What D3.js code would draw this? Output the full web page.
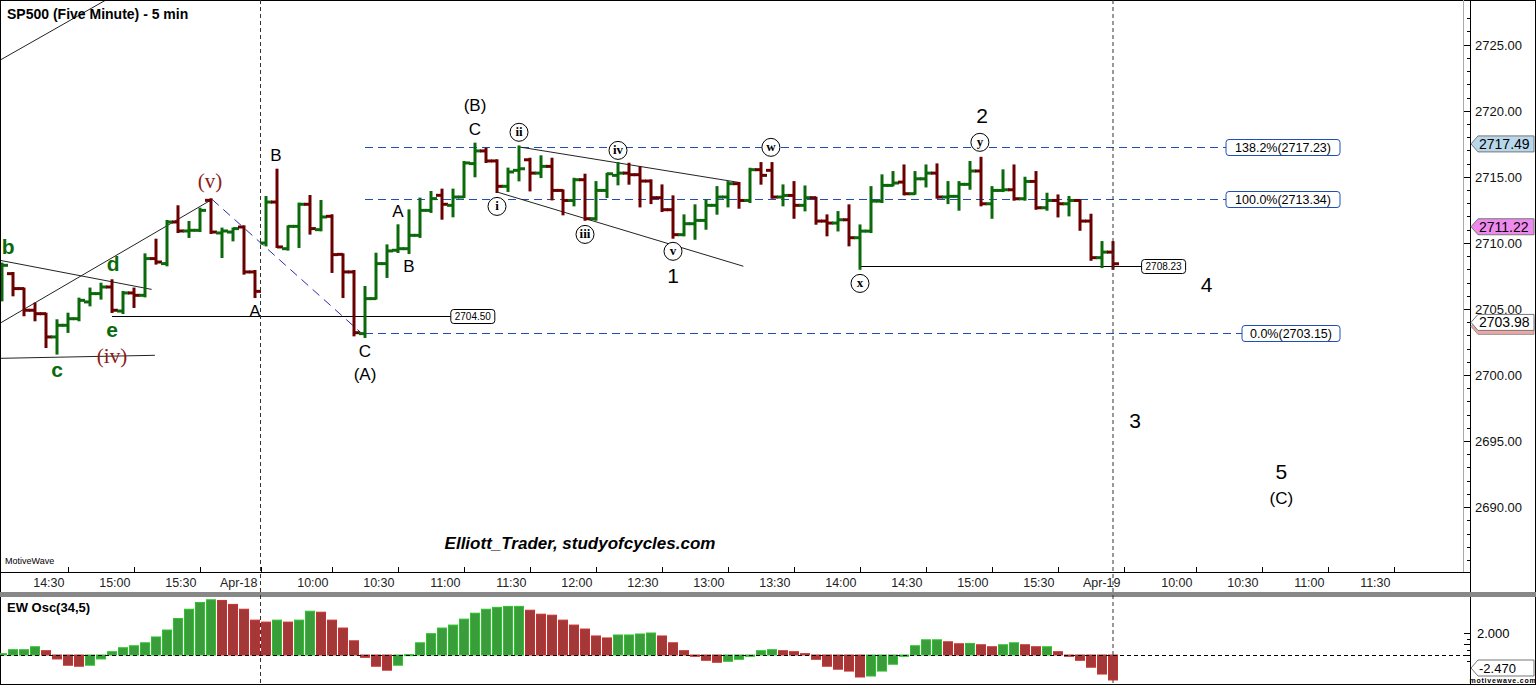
<!DOCTYPE html>
<html><head><meta charset="utf-8">
<script src="https://cdn.jsdelivr.net/npm/d3@7"></script>
<style>body{margin:0;background:#fff;overflow:hidden}svg{display:block;font-family:"Liberation Sans",Arial,sans-serif}</style>
</head><body><svg id="c" width="1536" height="685"></svg>
<script>
const opens=[2705.90,2707.67,2706.54,2704.90,2704.64,2702.88,2703.76,2704.26,2705.53,2706.16,2706.66,2704.84,2706.21,2706.03,2708.81,2708.43,2711.58,2710.90,2710.95,2713.22,2710.75,2710.82,2711.20,2707.80,
2709.99,2713.09,2709.56,2711.25,2712.92,2711.00,2712.01,2709.13,2707.80,2703.13,2705.78,2708.43,2709.44,2709.56,2710.57,2712.46,2713.60,2712.84,2713.47,2716.00,2716.96,2716.20,2714.28,
2715.49,2716.29,2715.28,2715.79,2713.97,2713.21,2714.78,2711.83,2713.97,2715.11,2715.28,2715.16,2714.68,2713.42,2712.51,2710.62,2711.45,2711.70,2712.84,2713.47,2714.48,2713.21,2715.54,2715.49,2713.47,2713.59,2712.84,2713.42,2711.65,2711.50,2711.75,2710.39,2710.89,
2713.16,2714.35,2714.60,2713.72,2714.85,2715.28,2713.47,2713.52,2714.43,2715.44,2712.96,2713.97,2714.02,2713.34,2714.65,2712.66,2713.21,2712.96,2713.21,2711.65,2708.88,2709.30];
const highs=[2708.43,2707.72,2706.54,2705.40,2704.64,2704.14,2704.64,2705.78,2706.54,2706.91,2707.17,2706.28,2706.54,2709.13,2710.24,2711.66,2712.77,2711.58,2712.59,2713.30,2711.08,2711.08,2711.25,2707.87,
2713.47,2715.54,2711.25,2712.97,2713.55,2713.17,2712.09,2709.13,2707.87,2706.66,2709.18,2709.81,2711.33,2712.46,2713.35,2713.85,2714.03,2714.03,2716.12,2717.51,2717.13,2716.25,2715.62,
2717.30,2716.37,2716.55,2716.37,2713.97,2714.85,2715.16,2714.60,2715.23,2716.04,2715.99,2715.74,2714.73,2714.35,2713.52,2712.08,2712.84,2713.21,2714.22,2714.60,2714.53,2715.61,2716.04,2716.04,2714.35,2714.60,2714.27,2713.42,2712.08,2712.33,2712.84,2711.32,2714.22,
2715.11,2715.36,2715.86,2715.36,2715.86,2715.94,2714.60,2714.60,2716.12,2716.44,2714.22,2715.49,2715.86,2714.93,2715.36,2713.72,2713.59,2713.47,2713.21,2712.13,2710.06,2710.06];
const lows=[2705.65,2706.03,2704.52,2704.14,2702.12,2701.62,2703.26,2704.14,2705.27,2705.78,2704.77,2704.69,2705.15,2705.95,2708.43,2708.30,2710.82,2710.45,2710.90,2710.75,2708.93,2710.19,2707.67,2705.90,
2709.81,2709.69,2709.49,2709.69,2710.70,2710.95,2707.80,2705.90,2703.00,2702.88,2705.78,2707.42,2709.31,2709.23,2710.45,2712.34,2711.83,2712.01,2713.47,2715.04,2716.12,2713.85,2713.93,
2714.73,2713.97,2714.98,2713.29,2712.16,2712.84,2711.75,2711.75,2713.47,2714.43,2714.48,2712.76,2713.01,2712.41,2710.39,2710.57,2710.31,2711.07,2712.21,2712.76,2712.66,2713.09,2714.48,2713.42,2712.84,2711.90,2712.46,2711.45,2710.57,2710.94,2709.81,2708.04,2710.82,
2713.09,2714.35,2713.67,2713.72,2714.27,2713.42,2713.01,2712.51,2714.10,2712.84,2711.90,2713.92,2713.27,2713.27,2712.58,2712.51,2712.00,2712.08,2710.99,2708.72,2708.17,2708.04];
const closes=[2708.30,2706.54,2704.90,2704.64,2702.88,2703.76,2704.26,2705.65,2706.16,2706.66,2704.90,2706.21,2706.03,2708.81,2708.55,2711.58,2710.90,2710.95,2712.46,2710.82,2710.90,2711.08,2707.80,2706.33,
2713.09,2709.69,2711.25,2712.92,2711.08,2711.96,2709.11,2707.80,2703.20,2705.78,2708.43,2709.39,2709.56,2710.57,2712.46,2713.35,2712.92,2713.47,2716.05,2716.96,2716.20,2714.28,2715.37,
2715.61,2715.28,2715.79,2713.97,2713.21,2714.78,2711.83,2713.97,2715.23,2715.28,2715.16,2714.68,2713.42,2712.51,2710.62,2711.45,2711.70,2712.84,2713.47,2714.48,2713.21,2715.54,2715.11,2713.47,2713.59,2712.84,2713.42,2711.65,2711.50,2711.75,2710.39,2710.89,2713.16,
2714.35,2714.53,2713.72,2714.85,2715.28,2713.47,2713.52,2714.43,2715.44,2712.96,2713.97,2714.02,2713.34,2714.65,2712.66,2713.21,2712.96,2713.21,2711.65,2708.88,2709.30,2708.42];
const osc=[0.12,0.48,0.48,0.75,0.39,-0.36,-0.93,-1.02,-0.93,-0.36,0.30,0.66,0.84,1.11,1.64,2.27,3.32,4.16,4.78,5.02,4.96,4.60,4.16,3.17,
2.99,3.17,2.99,3.17,3.98,3.89,3.17,2.45,1.29,-0.21,-1.02,-1.38,-0.93,0.03,1.11,1.94,2.45,2.72,3.26,3.80,4.16,4.33,4.42,4.42,4.07,3.71,3.62,3.17,2.72,2.36,1.73,
1.55,1.82,1.82,1.91,2.00,1.73,1.11,0.39,-0.12,-0.48,-0.66,-0.57,-0.39,-0.12,0.39,0.48,0.39,0.30,0.12,-0.39,-1.02,-1.29,-1.46,-2.00,-1.91,-1.46,-0.84,-0.12,0.84,1.38,1.38,1.20,1.02,1.05,0.93,0.75,0.93,1.11,0.93,0.75,0.75,0.30,-0.12,-0.48,-1.11,-1.73,-2.27];
const priceTicks=[2690,2695,2700,2705,2710,2715,2720,2725];
const timeTicks=[[6,"14:30"],[12,"15:00"],[18,"15:30"],[23.5,"Apr-18"],[30,"10:00"],[36,"10:30"],[42,"11:00"],[48,"11:30"],[54,"12:00"],[60,"12:30"],[66,"13:00"],[72,"13:30"],[78,"14:00"],[84,"14:30"],[90,"15:00"],[96,"15:30"],[102,"Apr-19"],[108.5,"10:00"],[114.5,"10:30"],[120.5,"11:00"],[126.5,"11:30"]];
const dayLines=[23.5,101];
const fibs=[["138.2%(2717.23)",2717.23],["100.0%(2713.34)",2713.34],["0.0%(2703.15)",2703.15]];
const tags=[[2717.49,"#b9d7ea"],[2711.22,"#ee8aee"],[2703.98,"#ffffff"]];
const trend=[[-0.2,2723.82,9.4,2728.36],[-0.2,2708.68,13.6,2706.48],[-0.2,2703.91,19.1,2713.29],[-0.2,2701.26,13.9,2701.49],[45,2713.85,67.4,2708.23],[47.1,2717.25,67.1,2714.56]];
const waveLabels=[["b",0.55,2709.66,"g"],["d",10.1,2708.37,"g"],["e",10,2703.38,"g"],["c",5,2700.35,"g"],["(iv)",10,2701.41,"r"],["(v)",18.9,2714.66,"r"],
["A",23,2704.89,"k"],["B",24.9,2716.7,"k"],["C",33,2701.86,"k"],["(A)",33,2700.12,"k"],["A",36,2712.46,"k"],["B",37,2708.3,"k"],["C",43,2718.67,"k"],["(B)",43,2720.49,"k"],
["1",61,2707.46,"n"],["2",89.1,2719.58,"n"],["4",109.5,2706.78,"n"],["3",103,2696.49,"n"],["5",116.3,2692.63,"n"],["(C)",116.3,2690.73,"k"]];
const circled=[["i",45,2712.76],["ii",47,2718.37],["iii",53,2710.64],["iv",56,2717.0],["v",61,2709.36],["w",69.9,2717.23],["x",78,2706.93],["y",88.9,2717.61]];

const svg=d3.select("#c");
const x=d3.scaleLinear().domain([0,1]).range([2,13]);
const y=d3.scaleLinear().domain([2690,2725]).range([507.1,44.7]);
const yo=d3.scaleLinear().domain([0,2]).range([655,633]);
const G="#0b680b",R="#6a0000";
const main=svg.append("g");
main.append("defs").append("clipPath").attr("id","cp").append("rect").attr("x",0).attr("y",0).attr("width",1464).attr("height",570);
main.append("defs").append("clipPath").attr("id","cpo").append("rect").attr("x",0).attr("y",597).attr("width",1464).attr("height",88);
const pg=main.append("g").attr("clip-path","url(#cp)");
svg.append("rect").attr("x",0.5).attr("y",0.5).attr("width",1535).attr("height",684).attr("fill","none").attr("stroke","#000");
svg.append("line").attr("x1",1463.5).attr("x2",1463.5).attr("y1",0).attr("y2",572).attr("stroke","#aaa");
svg.append("line").attr("x1",1470.5).attr("x2",1470.5).attr("y1",0).attr("y2",685).attr("stroke","#000");
svg.append("line").attr("x1",0).attr("x2",1471).attr("y1",572.5).attr("y2",572.5).attr("stroke","#000");
svg.append("rect").attr("x",0).attr("y",592).attr("width",1536).attr("height",5).attr("fill","#888");
dayLines.forEach(d=>{svg.append("line").attr("x1",x(d)).attr("x2",x(d)).attr("y1",0).attr("y2",685).attr("stroke","#333").attr("stroke-dasharray","4,3").attr("stroke-width",1);});
fibs.forEach((f,k)=>{
  const yy=Math.round(y(f[1]))+0.5, w=k==2?98:114, bx=1340-w;
  pg.append("line").attr("x1",x(33)).attr("x2",bx).attr("y1",yy).attr("y2",yy).attr("stroke","#1f4fb5").attr("stroke-dasharray","8,5");
  pg.append("rect").attr("x",bx).attr("y",yy-8).attr("width",w).attr("height",16).attr("rx",3).attr("fill","#fff").attr("stroke","#1f4fb5");
  pg.append("text").attr("x",bx+w/2).attr("y",yy+4.5).attr("text-anchor","middle").attr("font-size",12.5).text(f[0]);
});
[[2704.50,10,40.8,"2704.50"],[2708.23,78,103.6,"2708.23"]].forEach(h=>{
  const yy=Math.round(y(h[0]))+0.5, bx=x(h[2]);
  pg.append("line").attr("x1",x(h[1])).attr("x2",bx).attr("y1",yy).attr("y2",yy).attr("stroke","#000");
  pg.append("rect").attr("x",bx).attr("y",yy-7).attr("width",44).attr("height",14).attr("rx",3).attr("fill","#fff").attr("stroke","#000");
  pg.append("text").attr("x",bx+22).attr("y",yy+3.5).attr("text-anchor","middle").attr("font-size",10).text(h[3]);
});
trend.forEach(t=>pg.append("line").attr("x1",x(t[0])).attr("y1",y(t[1])).attr("x2",x(t[2])).attr("y2",y(t[3])).attr("stroke","#222").attr("stroke-width",1));
pg.append("line").attr("x1",x(19.1)).attr("y1",y(2713.29)).attr("x2",x(32.7)).attr("y2",y(2703.15)).attr("stroke","#2a2ab0").attr("stroke-dasharray","9,6");
const bars=pg.append("g").attr("stroke-width",3);
closes.forEach((c,i)=>{
  const col=c>=opens[i]?G:R, xi=Math.round(x(i));
  const g=bars.append("g").attr("stroke",col);
  g.append("line").attr("x1",xi).attr("x2",xi).attr("y1",y(highs[i])-1).attr("y2",y(lows[i])+1);
  g.append("line").attr("x1",xi-6).attr("x2",xi).attr("y1",y(opens[i])).attr("y2",y(opens[i]));
  g.append("line").attr("x1",xi).attr("x2",xi+6).attr("y1",y(c)).attr("y2",y(c));
});
const cols={g:"#0b6a0b",r:"#8b1a1a",k:"#000",n:"#000"};
waveLabels.forEach(l=>{
  const t=pg.append("text").attr("x",x(l[1])).attr("y",y(l[2])+7).attr("text-anchor","middle").attr("fill",cols[l[3]]).text(l[0]);
  if(l[3]=="g") t.attr("font-size",21).attr("font-weight","bold");
  else if(l[3]=="r") t.attr("font-size",21).attr("font-family","Liberation Serif,serif");
  else if(l[3]=="n") t.attr("font-size",21);
  else t.attr("font-size",17);
});
circled.forEach(c=>{
  pg.append("circle").attr("cx",x(c[1])).attr("cy",y(c[2])).attr("r",9).attr("fill","#fff").attr("stroke","#000");
  pg.append("text").attr("x",x(c[1])).attr("y",y(c[2])+4).attr("text-anchor","middle").attr("font-size",13).attr("font-weight","bold").attr("font-family","Liberation Serif,serif").text(c[0]);
});
svg.append("text").attr("x",7).attr("y",19).attr("font-size",14).attr("font-weight","bold").text("SP500 (Five Minute) - 5 min");
svg.append("text").attr("x",580).attr("y",549).attr("text-anchor","middle").attr("font-size",17).attr("font-weight","bold").attr("font-style","italic").text("Elliott_Trader, studyofcycles.com");
svg.append("text").attr("x",5).attr("y",564).attr("font-size",9).text("MotiveWave");
for(let p=2686;p<=2727;p++){
  const yy=Math.round(y(p))+0.5, maj=p%5==0;
  svg.append("line").attr("x1",maj?1464:1467).attr("x2",1470).attr("y1",yy).attr("y2",yy).attr("stroke","#000");
}
priceTicks.forEach(p=>svg.append("text").attr("x",1475).attr("y",y(p)+5).attr("font-size",13).attr("fill","#111").text(p.toFixed(2)));
tags.forEach((t,k)=>{
  const yy=y(t[0]);
  if(k==2) svg.append("path").attr("d",`M1471,${yy+4} l7,-8 h56 v16 h-56 z`).attr("fill","#eea6a6").attr("stroke","#999");
  svg.append("path").attr("d",`M1471,${yy} l7,-8 h56 v16 h-56 z`).attr("fill",t[1]).attr("stroke","#777");
  svg.append("text").attr("x",1479).attr("y",yy+5).attr("font-size",14).text(t[0].toFixed(2));
});
timeTicks.forEach(t=>{
  const xx=Math.round(x(t[0]))+0.5;
  svg.append("line").attr("x1",xx).attr("x2",xx).attr("y1",567).attr("y2",572).attr("stroke","#000");
  svg.append("text").attr("x",xx-4).attr("y",587).attr("text-anchor","end").attr("font-size",12.5).attr("fill","#222").text(t[1]);
});
const og=svg.append("g").attr("clip-path","url(#cpo)");
osc.forEach((v,i)=>{
  const up=i==0||v>=osc[i-1];
  og.append("rect").attr("x",x(i)-4.5).attr("width",9).attr("y",Math.min(yo(v),yo(0))).attr("height",Math.max(1,Math.abs(yo(v)-yo(0))))
    .attr("fill",up?"#3a9c3a":"#a33838").attr("stroke",up?"#2cc42c":"#c83030").attr("stroke-width",1);
});
svg.append("line").attr("x1",0).attr("x2",1470).attr("y1",yo(0)+0.5).attr("y2",yo(0)+0.5).attr("stroke","#000").attr("stroke-dasharray","4,3");
svg.append("text").attr("x",7).attr("y",612).attr("font-size",13).attr("font-weight","bold").text("EW Osc(34,5)");
for(let k=-1;k<=4;k++){const yy=Math.round(yo(k*0.5))+0.5;svg.append("line").attr("x1",k%2==0?1464:1467).attr("x2",1470).attr("y1",yy).attr("y2",yy).attr("stroke","#000");}
svg.append("text").attr("x",1477).attr("y",638).attr("font-size",13).text("2.000");
svg.append("path").attr("d",`M1471,668 l7,-8 h56 v16 h-56 z`).attr("fill","#fff").attr("stroke","#777");
svg.append("text").attr("x",1479).attr("y",673).attr("font-size",13).text("-2.470");
svg.append("text").attr("x",1503).attr("y",683).attr("text-anchor","middle").attr("font-size",7).attr("font-weight","bold").attr("letter-spacing",0.8).text("motivewave.com");
</script></body></html>
